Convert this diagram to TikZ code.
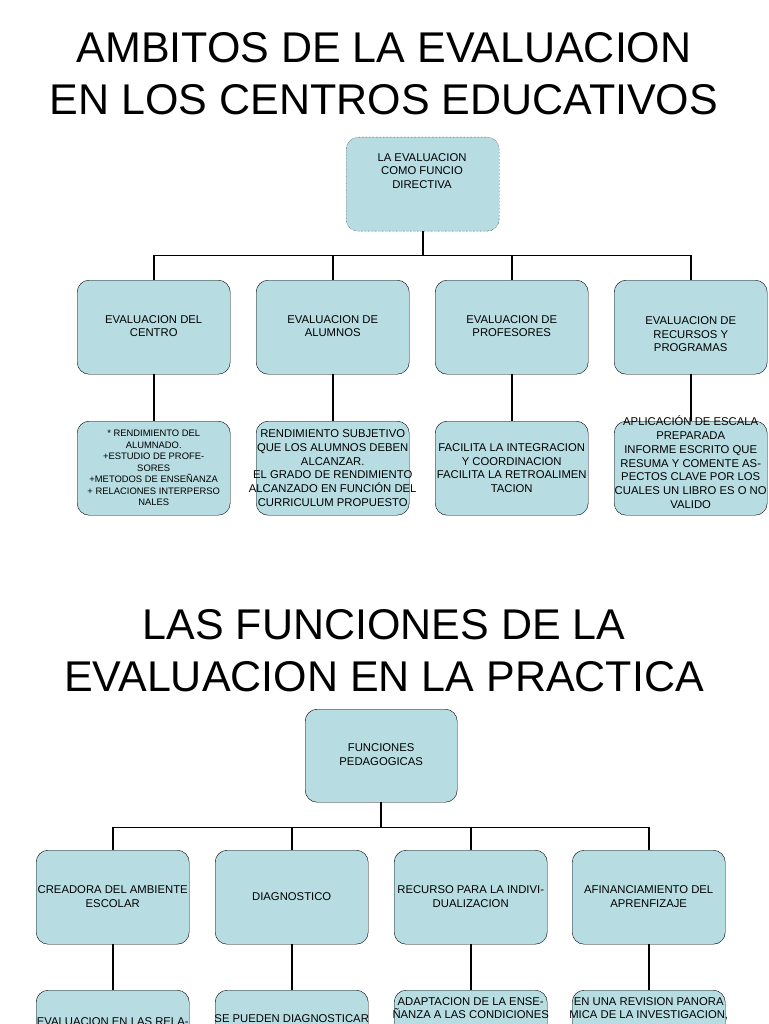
\documentclass[tikz,border=0pt]{standalone}
\usepackage{fontspec}
\setmainfont{Liberation Sans}
\begin{document}
\begin{tikzpicture}[x=1pt,y=-1pt,
  bx/.style={draw=black,fill={rgb,255:red,183;green,221;blue,226},rounded corners=12pt,minimum width=153pt,minimum height=94pt,inner sep=0pt,anchor=north west},
  tx/.style={font=\fontsize{11.3}{13.8}\selectfont,align=center,inner sep=0pt},
  sx/.style={font=\fontsize{9.4}{11.5}\selectfont,align=center,inner sep=0pt},
  ttl/.style={font=\fontsize{43}{52}\selectfont,align=center},
  ln/.style={line width=1.6pt}]
\useasboundingbox (0,0) rectangle (768,1024);
\clip (0,0) rectangle (768,1024);
\node[ttl] (t1) at (384,74) {AMBITOS DE LA EVALUACION\\EN LOS CENTROS EDUCATIVOS};
\node[bx,densely dotted,minimum width=153pt] (top) at (346,137) {};
\node[tx] at (422,171) {LA EVALUACION\\COMO FUNCIO\\DIRECTIVA};
\foreach \i/\x in {1/77,2/256,3/435,4/614}{
  \node[bx] (a\i) at (\x,280) {};
  \node[bx] (b\i) at (\x,421) {};
}
\node[tx] at (a1.center) [yshift=1pt] {EVALUACION DEL\\CENTRO};
\node[tx] at (a2.center) [yshift=1pt] {EVALUACION DE\\ALUMNOS};
\node[tx] at (a3.center) [yshift=1pt] {EVALUACION DE\\PROFESORES};
\node[tx] at (a4.center) [yshift=-7pt] {EVALUACION DE\\RECURSOS Y\\PROGRAMAS};
\node[sx] at (b1.center) {* RENDIMIENTO DEL\\ALUMNADO.\\+ESTUDIO DE PROFE-\\SORES\\+METODOS DE ENSEÑANZA\\+ RELACIONES INTERPERSO\\NALES};
\node[tx] at (b2.center) {RENDIMIENTO SUBJETIVO\\QUE LOS ALUMNOS DEBEN\\ALCANZAR.\\EL GRADO DE RENDIMIENTO\\ALCANZADO EN FUNCIÓN DEL\\CURRICULUM PROPUESTO};
\node[tx] at (b3.center) {FACILITA LA INTEGRACION\\Y COORDINACION\\FACILITA LA RETROALIMEN\\TACION};
\node[tx] at (b4.center) [yshift=6pt] {APLICACIÓN DE ESCALA\\PREPARADA\\INFORME ESCRITO QUE\\RESUMA Y COMENTE AS-\\PECTOS CLAVE POR LOS\\CUALES UN LIBRO ES O NO\\VALIDO};
\draw[ln] (top.south) -- ++(0,24) coordinate (j1);
\draw[ln] (a1.north) |- (j1) -| (a4.north);
\draw[ln] (a2.north) -- (a2.north |- j1);
\draw[ln] (a3.north) -- (a3.north |- j1);
\foreach \i in {1,2,3,4}{\draw[ln] (a\i.south) -- (b\i.north);}

\node[ttl] (t2) at (384,651) {LAS FUNCIONES DE LA\\EVALUACION EN LA PRACTICA};
\node[bx,minimum width=152pt,minimum height=93pt] (fp) at (305,709) {};
\node[tx] at (fp.center) [yshift=1pt] {FUNCIONES\\PEDAGOGICAS};
\foreach \i/\x in {1/36,2/215,3/394,4/572}{
  \node[bx] (c\i) at (\x,850) {};
  \node[bx] (d\i) at (\x,990) {};
}
\node[tx] at (c1.center) [yshift=1pt] {CREADORA DEL AMBIENTE\\ESCOLAR};
\node[tx] at (c2.center) [yshift=1pt] {DIAGNOSTICO};
\node[tx] at (c3.center) [yshift=1pt] {RECURSO PARA LA INDIVI-\\DUALIZACION};
\node[tx] at (c4.center) [yshift=1pt] {AFINANCIAMIENTO DEL\\APRENFIZAJE};
\node[tx,anchor=north] at ([yshift=-27pt]d1.north) {EVALUACION EN LAS RELA-};
\node[tx,anchor=north] at ([yshift=-24pt]d2.north) {SE PUEDEN DIAGNOSTICAR\\CUALIDADES DE LOS ALUM};
\node[tx,anchor=north] at ([yshift=-7pt]d3.north) {ADAPTACION DE LA ENSE-\\ÑANZA  A LAS CONDICIONES};
\node[tx,anchor=north] at ([yshift=-7pt]d4.north) {EN UNA REVISION PANORA\\MICA DE LA INVESTIGACION,};
\draw[ln] (fp.south) -- ++(0,25) coordinate (j2);
\draw[ln] (c1.north) |- (j2) -| (c4.north);
\draw[ln] (c2.north) -- (c2.north |- j2);
\draw[ln] (c3.north) -- (c3.north |- j2);
\foreach \i in {1,2,3,4}{\draw[ln] (c\i.south) -- (d\i.north);}
\end{tikzpicture}
\end{document}
